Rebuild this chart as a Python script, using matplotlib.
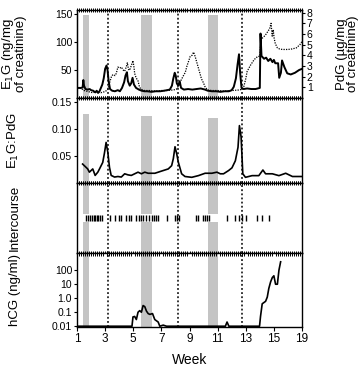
import numpy as np
import matplotlib
matplotlib.use("Agg")
import matplotlib.pyplot as plt
from matplotlib.ticker import MultipleLocator, FixedLocator

plt.rcParams["font.family"] = ["Liberation Sans", "DejaVu Sans"]

# ---- data (weeks on x) ----
e1g_week = [1.00, 1.30, 1.40, 1.45, 1.50, 1.60, 1.75, 1.90, 2.00, 2.15, 2.30, 2.40, 2.50,
            2.60, 2.70, 2.80, 2.90, 3.00, 3.10, 3.17, 3.25, 3.35, 3.50, 3.70, 3.90, 4.05,
            4.20, 4.35, 4.45, 4.55, 4.62, 4.75, 4.85, 4.95, 5.05, 5.20, 5.40, 5.60, 5.80,
            6.00, 6.30, 6.60, 6.90, 7.20, 7.40, 7.60, 7.75, 7.85, 7.95, 8.02, 8.10, 8.20,
            8.30, 8.40, 8.60, 8.90, 9.20, 9.50, 9.80, 10.10, 10.30, 10.60, 10.90, 11.20,
            11.50, 11.80, 12.00, 12.15, 12.30, 12.42, 12.52, 12.60, 12.70, 12.85, 13.10,
            13.40, 13.70, 14.00, 14.05, 14.12, 14.30, 14.45, 14.60, 14.75, 14.90, 15.00,
            15.10, 15.30, 15.38, 15.50, 15.58, 15.75, 15.95, 16.20, 16.50, 16.80, 17.00]
e1g_val = [18, 18, 19, 32, 22, 16, 15, 16, 14, 13, 10, 13, 9,
           12, 18, 24, 35, 52, 58, 50, 30, 16, 13, 12, 14, 12,
           18, 28, 40, 46, 30, 22, 26, 36, 24, 18, 15, 13, 12,
           12, 11, 12, 12, 13, 14, 15, 22, 35, 45, 40, 26, 22,
           30, 18, 15, 16, 15, 16, 17, 15, 13, 12, 12, 11,
           12, 12, 14, 20, 35, 60, 78, 45, 18, 16, 17,
           16, 16, 18, 115, 75, 70, 72, 66, 70, 64, 68,
           62, 62, 36, 45, 67, 55, 44, 42, 45, 50, 52]

pdg_week = [1.00, 1.30, 1.50, 1.80, 2.10, 2.40, 2.70, 3.00, 3.19, 3.31, 3.45, 3.55, 3.70,
            3.79, 3.91, 4.05, 4.15, 4.30, 4.39, 4.50, 4.58, 4.66, 4.74, 4.85, 4.98, 5.05,
            5.10, 5.20, 5.34, 5.45, 5.58, 5.80, 6.20, 6.60, 7.00, 7.40, 7.80, 8.05, 8.15,
            8.30, 8.45, 8.57, 8.70, 8.82, 8.95, 9.05, 9.18, 9.29, 9.40, 9.55, 9.70, 9.85,
            10.00, 10.12, 10.30, 10.60, 11.00, 11.50, 12.00, 12.50, 12.70, 12.85, 13.00,
            13.10, 13.35, 13.60, 13.85, 14.00, 14.08, 14.25, 14.40, 14.55, 14.70, 14.80,
            14.88, 14.95, 15.02, 15.10, 15.25, 15.40, 15.60, 15.80, 16.00, 16.30, 16.60,
            16.85, 17.00]
pdg_val = [0.9, 0.9, 0.7, 0.6, 0.5, 0.6, 0.5, 0.6, 0.8, 1.4, 2.0, 2.2, 2.1,
           2.3, 2.9, 2.8, 2.9, 2.6, 2.5, 2.9, 3.3, 2.7, 2.6, 3.0, 3.5, 2.9,
           2.3, 1.9, 1.6, 1.0, 0.8, 0.7, 0.7, 0.65, 0.7, 0.7, 0.75, 0.8, 1.0,
           1.4, 1.8, 2.1, 2.4, 3.0, 3.5, 3.9, 4.0, 4.3, 3.9, 3.2, 2.5, 1.8,
           1.4, 1.0, 0.75, 0.7, 0.7, 0.65, 0.7, 0.75, 0.8, 1.0, 1.8,
           2.5, 3.1, 3.6, 3.9, 3.9, 5.5, 5.7, 5.9, 6.2, 6.5, 7.0,
           5.8, 6.4, 5.6, 5.1, 4.7, 4.6, 4.55, 4.55, 4.55, 4.6, 4.7,
           5.0, 5.3]

ratio_week = [1.40, 1.52, 1.76, 1.88, 2.12, 2.29, 2.48, 2.60, 2.83, 2.95, 3.07, 3.19, 3.31,
              3.43, 3.67, 3.91, 4.15, 4.39, 4.63, 4.86, 5.10, 5.34, 5.58, 5.82, 6.06, 6.54,
              7.01, 7.49, 7.73, 7.85, 7.97, 8.09, 8.21, 8.44, 8.68, 9.16, 9.63, 10.11, 10.59,
              10.95, 11.19, 11.42, 11.78, 12.02, 12.26, 12.45, 12.55, 12.67, 12.79, 12.98,
              13.45, 13.93, 14.22, 14.41, 14.89, 15.36, 15.84, 16.32, 17.00]
ratio_val = [0.035, 0.032, 0.026, 0.020, 0.026, 0.014, 0.020, 0.026, 0.038, 0.055, 0.075, 0.057, 0.029,
             0.014, 0.011, 0.012, 0.011, 0.017, 0.015, 0.014, 0.017, 0.020, 0.017, 0.020, 0.018, 0.018,
             0.022, 0.026, 0.032, 0.045, 0.067, 0.054, 0.038, 0.017, 0.012, 0.0105, 0.0136, 0.018, 0.018,
             0.020, 0.017, 0.017, 0.023, 0.028, 0.041, 0.066, 0.106, 0.085, 0.017, 0.0105,
             0.0136, 0.0136, 0.024, 0.017, 0.017, 0.0136, 0.018, 0.012, 0.012]

sex_week = [1.64, 1.81, 1.95, 2.07, 2.19, 2.29, 2.40, 2.52, 2.64, 2.76, 3.38, 3.72, 3.96,
            4.15, 4.51, 4.67, 4.82, 5.22, 5.39, 5.53, 5.72, 5.89, 6.10, 6.30, 6.48, 6.65,
            6.77, 7.39, 7.96, 8.09, 8.25, 9.47, 9.63, 9.99, 10.11, 10.26, 10.40, 11.66,
            12.26, 12.55, 12.74, 13.02, 13.81, 14.17, 14.64]

hcg_week = [1.00, 4.91, 4.98, 5.10, 5.22, 5.34, 5.46, 5.58, 5.70, 5.82, 5.94, 6.06, 6.18,
            6.37, 6.53, 6.77, 6.89, 7.13, 7.37, 11.55, 11.67, 11.80, 13.98, 14.05, 14.17,
            14.41, 14.53, 14.64, 14.77, 14.89, 15.00, 15.12, 15.25, 15.36, 15.48]
hcg_val = [0.01, 0.01, 0.046, 0.05, 0.03, 0.1, 0.13, 0.1, 0.3, 0.25, 0.12, 0.08, 0.07,
           0.08, 0.03, 0.02, 0.01, 0.012, 0.01, 0.01, 0.02, 0.01, 0.01, 0.05, 0.4,
           0.6, 1.2, 5, 15, 30, 40, 10, 10, 100, 400]

# shaded periods (menses) and cycle markers
band_start = [1.40, 5.58, 10.30]
band_end = [1.88, 6.34, 11.00]
band_top_e1g = [148, 148, 148]
band_top_ratio = [0.128, 0.123, 0.120]
cycle_lines = [3.22, 8.17, 12.75]

week_ticks = [1, 3, 5, 7, 9, 11, 13, 15, 17]
week_labels = ["1", "3", "5", "7", "9", "11", "13", "15", "19"]

BAND = "#c4c4c4"
TICK_FS = 7.5
LAB_FS = 9.5

fig = plt.figure(figsize=(3.63, 3.72), dpi=100)
L, W = 77 / 363, 225 / 363
H = 372.0
ax1 = fig.add_axes([L, 1 - 98 / H, W, 88 / H])
ax2 = fig.add_axes([L, 1 - 183 / H, W, 85 / H])
ax3 = fig.add_axes([L, 1 - 253 / H, W, 70 / H])
ax4 = fig.add_axes([L, 1 - 327 / H, W, 74 / H])
axes = [ax1, ax2, ax3, ax4]

for ax in axes:
    ax.set_xlim(1, 17)
    for s in ax.spines.values():
        s.set_linewidth(1.0)
    for x in cycle_lines:
        ax.axvline(x, color="black", ls=(0, (1.2, 1.5)), lw=1.1, zorder=3)
    ax.xaxis.set_major_locator(FixedLocator(week_ticks))
    ax.xaxis.set_minor_locator(MultipleLocator(1 / 7))

# panel 1: E1G and PdG
for s, e, t in zip(band_start, band_end, band_top_e1g):
    ax1.fill_between([s, e], 0, t, color=BAND, lw=0, zorder=1)
ax1.plot(e1g_week, e1g_val, color="black", lw=1.4, zorder=4)
ax1.set_ylim(0, 157)
ax1.set_yticks([50, 100, 150])
ax1r = ax1.twinx()
ax1r.plot(pdg_week, pdg_val, color="black", lw=0.9, ls=(0, (1, 1)), zorder=4)
ax1r.set_ylim(0, 8.25)
ax1r.set_yticks(range(1, 9))
ax1r.tick_params(axis="y", direction="out", length=2.5, width=0.8, labelsize=TICK_FS, pad=1)
ax1r.set_ylabel("PdG (\u00b5g/mg\nof creatinine)", fontsize=LAB_FS, linespacing=0.9)
ax1r.yaxis.set_label_coords(1.15, 0.5)
ax1.set_ylabel("E$_1$G (ng/mg\nof creatinine)", fontsize=LAB_FS, linespacing=0.9)

# panel 2: ratio
for s, e, t in zip(band_start, band_end, band_top_ratio):
    ax2.fill_between([s, e], 0, t, color=BAND, lw=0, zorder=1)
ax2.plot(ratio_week, ratio_val, color="black", lw=1.2, zorder=4)
ax2.set_ylim(0, 0.157)
ax2.set_yticks([0.05, 0.10, 0.15])
ax2.set_yticklabels(["0.05", "0.10", "0.15"])
ax2.set_ylabel("E$_1$G:PdG", fontsize=LAB_FS)

# panel 3: intercourse
for s, e in zip(band_start, band_end):
    ax3.axvspan(s, e, color=BAND, lw=0, zorder=1)
ax3.axhspan(0.45, 0.56, color="white", lw=0, zorder=2)
ax3.plot(sex_week, [0.5] * len(sex_week), ls="none", marker="|", ms=4.5, mew=1.0,
         color="black", zorder=4)
ax3.set_ylim(0, 1)
ax3.set_yticks([])
ax3.set_ylabel("Intercourse", fontsize=LAB_FS)

# panel 4: hCG
for s, e in zip(band_start, band_end):
    ax4.axvspan(s, e, color=BAND, lw=0, zorder=1)
ax4.plot(hcg_week, hcg_val, color="black", lw=1.2, zorder=4)
ax4.set_yscale("log")
ax4.set_ylim(0.0088, 1700)
ax4.set_yticks([0.01, 0.1, 1, 10, 100])
ax4.set_yticklabels(["0.01", "0.1", "1.0", "10", "100"])
ax4.yaxis.set_minor_locator(FixedLocator([]))
ax4.set_ylabel("hCG (ng/ml)", fontsize=LAB_FS)
ax4.set_xticklabels(week_labels)
ax4.set_xlabel("Week", fontsize=LAB_FS + 0.5, labelpad=6)

for ax in axes:
    ax.tick_params(axis="y", direction="out", length=2.5, width=0.8, labelsize=TICK_FS, pad=1)
    ax.yaxis.set_label_coords(-0.25, 0.5)
for ax in [ax1, ax2, ax3]:
    ax.tick_params(axis="x", which="both", direction="inout", length=2.5, width=0.7,
                   top=True, labelbottom=False)
ax4.tick_params(axis="x", which="major", direction="out", length=3, width=0.8,
                labelsize=TICK_FS + 1, pad=1)
ax4.tick_params(axis="x", which="minor", direction="in", length=2, width=0.7,
                bottom=False, top=True)
ax1.yaxis.set_label_coords(-0.22, 0.5)

fig.savefig("out.png", dpi=100)
